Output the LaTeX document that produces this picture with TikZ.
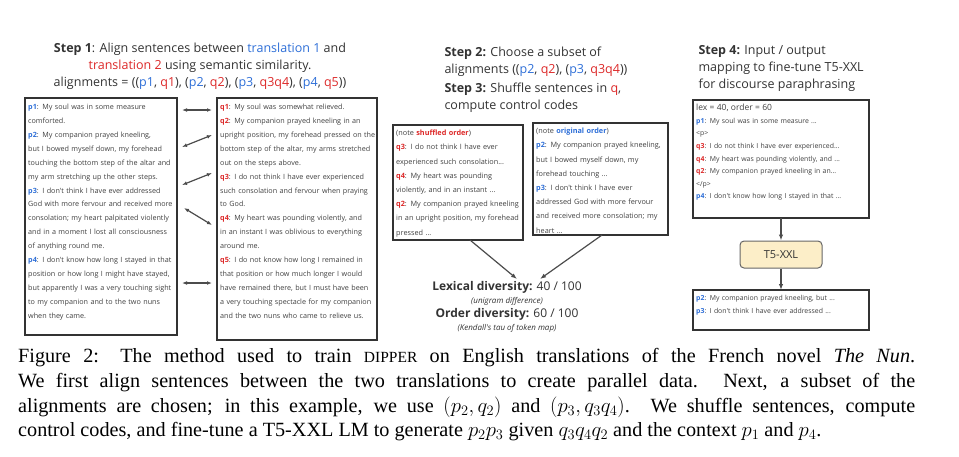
\documentclass[tikz,border=0pt]{standalone}
\usepackage{fontspec}
\setmainfont{Liberation Serif}
\newfontfamily\gs{Open Sans}
\usetikzlibrary{arrows.meta}
\definecolor{pb}{RGB}{45,110,215}
\definecolor{qr}{RGB}{220,40,40}
\definecolor{ybox}{RGB}{252,238,200}
\newcommand{\pp}[1]{\textcolor{pb}{\textbf{#1}}}
\newcommand{\qq}[1]{\textcolor{qr}{\textbf{#1}}}
\AtBeginDocument{\hyphenpenalty=10000 \tolerance=9999}
\begin{document}
\begin{tikzpicture}[x=1pt,y=-1pt,
 frame/.style={draw=black!80,line width=1.3pt},
 txt/.style={inner sep=0pt,anchor=north west,align=left,font=\gs\fontsize{7.2}{13.9}\selectfont,text=black!75},
 title/.style={font=\gs\fontsize{12.5}{17}\selectfont,text=black!80},
 dbl/.style={{Latex[length=5pt]}-{Latex[length=5pt]},line width=1.2pt,draw=black!70},
 one/.style={-{Latex[length=6pt]},line width=1.2pt,draw=black!70}]
\useasboundingbox (0,0) rectangle (959,456);
% Step 1
\node[title,align=center,font=\gs\fontsize{12.5}{17}\selectfont] (t1) at (200,66) {\textbf{Step 1}: Align sentences between \textcolor{pb}{translation 1} and\\ \textcolor{qr}{translation 2} using semantic similarity.\\ alignments = ((\textcolor{pb}{p1}, \textcolor{qr}{q1}), (\textcolor{pb}{p2}, \textcolor{qr}{q2}), (\textcolor{pb}{p3}, \textcolor{qr}{q3q4}), (\textcolor{pb}{p4}, \textcolor{qr}{q5}))};
\draw[frame] (25,98) rectangle (177,335);
\node[txt,text width=147pt] (L) at (28,104) {\pp{p1}: My soul was in some measure comforted.\\ \pp{p2}: My companion prayed kneeling, but I bowed myself down, my forehead touching the bottom step of the altar and my arm stretching up the other steps.\\ \pp{p3}: I don't think I have ever addressed God with more fervour and received more consolation; my heart palpitated violently and in a moment I lost all consciousness of anything round me.\\ \pp{p4}: I don't know how long I stayed in that position or how long I might have stayed, but apparently I was a very touching sight to my companion and to the two nuns when they came.};
\draw[frame] (217,98) rectangle (377,340);
\node[txt,text width=155pt] (R) at (220,104) {\qq{q1}: My soul was somewhat relieved.\\ \qq{q2}: My companion prayed kneeling in an upright position, my forehead pressed on the bottom step of the altar, my arms stretched out on the steps above.\\ \qq{q3}: I do not think I have ever experienced such consolation and fervour when praying to God.\\ \qq{q4}: My heart was pounding violently, and in an instant I was oblivious to everything around me.\\ \qq{q5}: I do not know how long I remained in that position or how much longer I would have remained there, but I must have been a very touching spectacle for my companion and the two nuns who came to relieve us.};
\coordinate (a1) at (182,110); \coordinate (b1) at (212,110);
\coordinate (a2) at (182,147); \coordinate (b2) at (212,135);
\coordinate (a3) at (182,185); \coordinate (b3) at (212,173);
\coordinate (a4) at (184,208); \coordinate (b4) at (212,225);
\coordinate (a5) at (182,283); \coordinate (b5) at (212,283);
\foreach \i in {1,...,5} \draw[dbl] (a\i) -- (b\i);
% Step 2/3
\node[title,align=left,anchor=north west] (t2) at (441,43) {\textbf{Step 2:} Choose a subset of\\ alignments ((\textcolor{pb}{p2}, \textcolor{qr}{q2}), (\textcolor{pb}{p3}, \textcolor{qr}{q3q4}))};
\node[title,align=left,anchor=north west] (t3) at (441,79) {\textbf{Step 3:} Shuffle sentences in \textcolor{qr}{q},\\ compute control codes};
\draw[frame] (393,125) rectangle (523,240);
\node[txt,text width=125pt,font=\gs\fontsize{7.3}{14.2}\selectfont] (A) at (396,130) {(note \qq{shuffled order})\\ \qq{q3}: I do not think I have ever experienced such consolation...\\ \qq{q4}: My heart was pounding violently, and in an instant ...\\ \qq{q2}: My companion prayed kneeling in an upright position, my forehead pressed ...};
\draw[frame] (533,123) rectangle (668,235);
\node[txt,text width=130pt,font=\gs\fontsize{7.3}{14.2}\selectfont] (B) at (536,128) {(note \pp{original order})\\ \pp{p2}: My companion prayed kneeling, but I bowed myself down, my forehead touching ...\\ \pp{p3}: I don't think I have ever addressed God with more fervour and received more consolation; my heart ...};
\node[align=center,font=\gs\fontsize{12}{13.4}\selectfont,text=black!80] (D) at (507,307) {\textbf{Lexical diversity:} 40 / 100\\ {\fontsize{8}{13.4}\selectfont\itshape (unigram difference)}\\ \textbf{Order diversity:} 60 / 100\\ {\fontsize{8}{13.4}\selectfont\itshape (Kendall's tau of token map)}};
\coordinate (d1) at (517,279); \coordinate (d2) at (540,279);
\coordinate (s1) at (470,240); \coordinate (s2) at (602,235);
\draw[one] (s1) -- (d1);
\draw[one] (s2) -- (d2);
% Step 4
\node[title,align=left,anchor=north west] (t4) at (695,42) {\textbf{Step 4:} Input / output\\ mapping to fine-tune T5-XXL\\ for discourse paraphrasing};
\draw[frame] (693,100) rectangle (869,218);
\node[txt,text width=172pt,font=\gs\fontsize{6.9}{12.6}\selectfont] (C) at (696,104) {{\fontsize{8.5}{12.6}\selectfont lex = 40, order = 60}\\ \pp{p1}: My soul was in some measure ...\\ <p>\\ \qq{q3}: I do not think I have ever experienced...\\ \qq{q4}: My heart was pounding violently, and ...\\ \qq{q2}: My companion prayed kneeling in an...\\ </p>\\ \pp{p4}: I don't know how long I stayed in that ...};
\coordinate (cb) at (781,218);
\node[draw=black!60,fill=ybox,rounded corners=4pt,line width=1pt,minimum width=82pt,minimum height=27pt,font=\gs\fontsize{11}{12}\selectfont,text=black!80] (T) at (781,254.5) {T5-XXL};
\draw[frame] (693,290) rectangle (869,330);
\node[txt,text width=172pt,font=\gs\fontsize{6.9}{12.6}\selectfont] (O) at (696,295) {\pp{p2}: My companion prayed kneeling, but ...\\ \pp{p3}: I don't think I have ever addressed ...};
\coordinate (ot) at (781,290);
\draw[one] (cb) -- (T.north);
\draw[one] (T.south) -- (ot);
% caption
\node[anchor=north west,text width=897pt,align=justify,inner sep=0pt,font=\fontsize{20.2}{24.8}\selectfont] (cap) at (18,348) {Figure 2: The method used to train {\fontsize{15.5}{24.8}\selectfont DIPPER} on English translations of the French novel \textit{The Nun}.\linebreak We first align sentences between the two translations to create parallel data. Next, a subset of the\linebreak alignments are chosen; in this example, we use $(p_2, q_2)$ and $(p_3, q_3q_4)$. We shuffle sentences, compute\linebreak control codes, and fine-tune a T5-XXL LM to generate $p_2p_3$ given $q_3q_4q_2$ and the context $p_1$ and $p_4$.};
\end{tikzpicture}
\end{document}
